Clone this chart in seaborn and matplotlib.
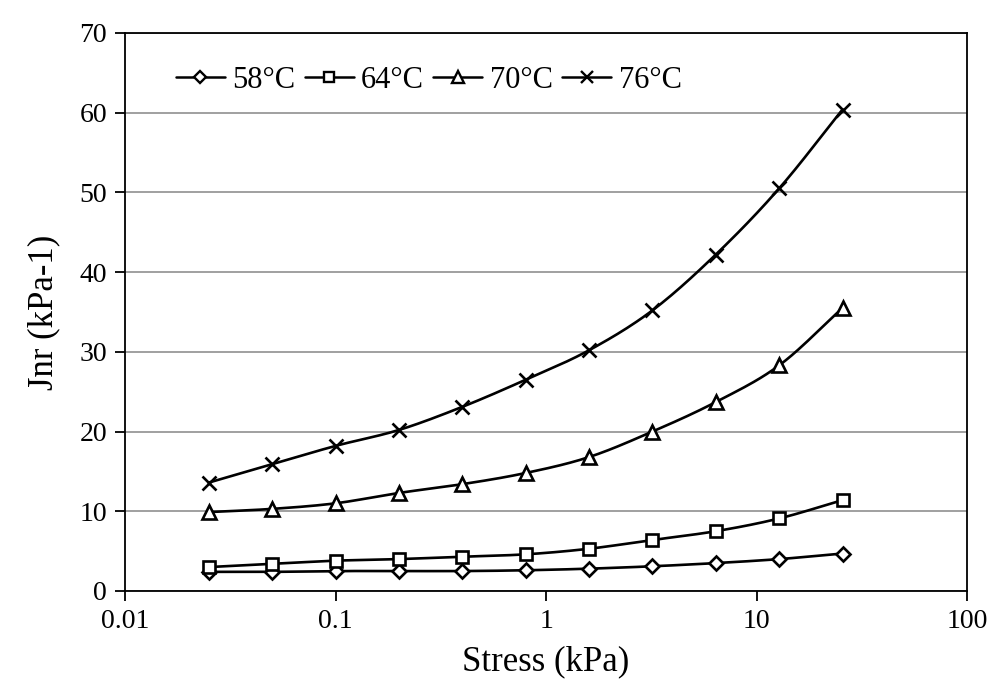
import numpy as np
import pandas as pd
import matplotlib
matplotlib.use("Agg")
import matplotlib.pyplot as plt
import seaborn as sns
from matplotlib.lines import Line2D

# ---- data ----
stress = [0.025, 0.05, 0.1, 0.2, 0.4, 0.8, 1.6, 3.2, 6.4, 12.8, 25.6]
jnr_58 = [2.4, 2.4, 2.5, 2.5, 2.5, 2.6, 2.8, 3.1, 3.5, 4.0, 4.7]
jnr_64 = [3.0, 3.4, 3.8, 4.0, 4.3, 4.6, 5.3, 6.4, 7.5, 9.1, 11.4]
jnr_70 = [9.9, 10.3, 11.0, 12.3, 13.4, 14.8, 16.8, 20.0, 23.7, 28.3, 35.5]
jnr_76 = [13.6, 15.9, 18.2, 20.2, 23.1, 26.5, 30.2, 35.2, 42.2, 50.5, 60.4]
labels = ["58°C", "64°C", "70°C", "76°C"]
x_ticks = [0.01, 0.1, 1, 10, 100]
x_ticklabels = ["0.01", "0.1", "1", "10", "100"]
y_ticks = [0, 10, 20, 30, 40, 50, 60, 70]

series = [jnr_58, jnr_64, jnr_70, jnr_76]
markers = ["D", "s", "^", "x"]
msizes = [7, 9, 10, 10.5]

sns.set_theme(style="white")
plt.rcParams["font.family"] = ["Liberation Serif", "DejaVu Serif"]
plt.rcParams["text.color"] = "black"
plt.rcParams["axes.labelcolor"] = "black"


def smooth(xs, ys, n=20):
    """Bezier smoothing in log-x space (line rendering only)."""
    lx = np.log10(np.asarray(xs, float))
    y = np.asarray(ys, float)
    P = np.column_stack([lx, y])
    P = np.vstack([P[0] - (P[1] - P[0]), P, P[-1] + (P[-1] - P[-2])])
    out = []
    for i in range(1, len(P) - 2):
        p0, p1, p2, p3 = P[i - 1], P[i], P[i + 1], P[i + 2]
        t = np.linspace(0, 1, n, endpoint=False)[:, None]
        b1 = p1 + (p2 - p0) / 6.0
        b2 = p2 - (p3 - p1) / 6.0
        pts = ((1 - t) ** 3) * p1 + 3 * ((1 - t) ** 2) * t * b1 + 3 * (1 - t) * t ** 2 * b2 + t ** 3 * p2
        out.append(pts)
    out.append(P[-2][None, :])
    out = np.vstack(out)
    return 10 ** out[:, 0], out[:, 1]


fig = plt.figure(figsize=(9.97, 6.93), dpi=100)
ax = fig.add_axes([0.1254, 0.1472, 0.8446, 0.8052])

for ys, lab in zip(series, labels):
    sx, sy = smooth(stress, ys)
    df_s = pd.DataFrame({"x": sx, "y": sy})
    sns.lineplot(data=df_s, x="x", y="y", ax=ax, color="black", lw=1.9,
                 sort=False, estimator=None, legend=False, zorder=3)

for ys, m, ms in zip(series, markers, msizes):
    df = pd.DataFrame({"x": stress, "y": ys})
    ax.plot(df["x"], df["y"], linestyle="none", marker=m, markersize=ms,
            markerfacecolor="white" if m != "x" else "black",
            markeredgecolor="black", markeredgewidth=1.9, zorder=4)

ax.set_xscale("log")
ax.set_xlim(0.01, 100)
ax.set_ylim(0, 70)
ax.set_xticks(x_ticks)
ax.set_xticklabels(x_ticklabels)
ax.xaxis.set_minor_locator(matplotlib.ticker.NullLocator())
ax.set_yticks(y_ticks)
ax.yaxis.grid(True, color="#a0a0a0", lw=1.4)
ax.xaxis.grid(False)
ax.set_axisbelow(True)
for s in ax.spines.values():
    s.set_visible(True)
    s.set_color("black")
    s.set_linewidth(1.3)
ax.tick_params(axis="both", which="major", direction="out", length=7, width=1.3,
               labelsize=20, colors="black", bottom=True, left=True, pad=6)
ax.set_xlabel("Stress (kPa)", fontsize=25, labelpad=8, color="black")
ax.set_ylabel("Jnr (kPa-1)", fontsize=25, labelpad=14, color="black")

handles = [Line2D([0], [0], color="black", lw=1.8, marker=m, markersize=ms * 0.85,
                  markerfacecolor="white" if m != "x" else "black",
                  markeredgecolor="black", markeredgewidth=1.7)
           for m, ms in zip(markers, msizes)]
leg = ax.legend(handles, labels, loc="upper left", bbox_to_anchor=(0.035, 0.98), ncol=4,
                frameon=False, fontsize=22, handlelength=1.6, handletextpad=0.25,
                columnspacing=0.3, borderaxespad=0.3)
for t in leg.get_texts():
    t.set_color("black")

fig.savefig("out.png", dpi=100)
